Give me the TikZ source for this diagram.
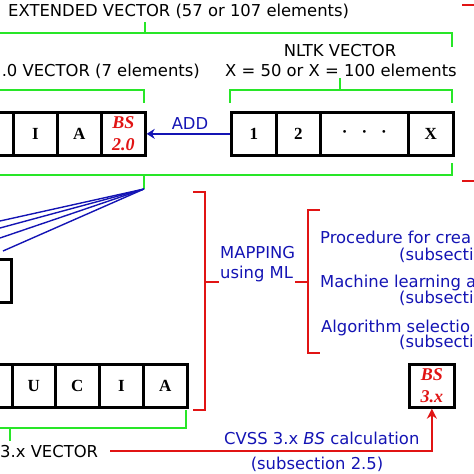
\documentclass[tikz,border=0pt]{standalone}
\usepackage{fontspec}
\setmainfont{DejaVu Sans}
\newfontfamily\tnr{Liberation Serif}
\usetikzlibrary{arrows.meta}
\definecolor{gr}{RGB}{40,230,40}
\definecolor{bl}{RGB}{20,20,180}
\definecolor{rd}{RGB}{225,20,20}
\tikzset{
  cell/.style={draw=black, line width=2.7pt, minimum height=43pt, inner sep=0pt, anchor=north west,
    font=\tnr\bfseries\fontsize{17}{17}\selectfont},
  bscell/.style={cell, text=rd, align=center, font=\tnr\bfseries\itshape\fontsize{18}{22}\selectfont},
  gline/.style={draw=gr, line width=2.8pt},
  rline/.style={draw=rd, line width=2.2pt},
  bline/.style={draw=bl, line width=1.4pt},
  lbl/.style={font=\fontsize{16.4}{20}\selectfont, inner sep=0pt},
  blbl/.style={lbl, text=bl},
}
\begin{document}
\begin{tikzpicture}[x=1pt,y=-1pt]
\useasboundingbox (0,0) rectangle (474,474);
% ---- row 1 : CVSS 2.0 vector
\node[cell, minimum width=44pt] (c0) at (-32,111) {};
\node[cell, minimum width=44pt] (c1) at (12,111) {I};
\node[cell, minimum width=44pt] (c2) at (56,111) {A};
\node[bscell, minimum width=44pt] (bs2) at (100,111) {BS\\2.0};
% ---- NLTK vector
\node[cell, minimum width=45pt] (n1) at (230,111) {1};
\node[cell, minimum width=44pt] (n2) at (275,111) {2};
\node[cell, minimum width=88pt] (n3) at (319,111) {·\hspace{14pt}·\hspace{14pt}·};
\node[cell, minimum width=45pt] (n4) at (407,111) {X};
% ---- middle left box
\node[cell, minimum width=44pt] (m0) at (-34,258) {};
% ---- CVSS 3.x vector
\node[cell, minimum width=43pt] (d0) at (-32,363) {};
\node[cell, minimum width=43pt] (d1) at (11,363) {U};
\node[cell, minimum width=44pt] (d2) at (54,363) {C};
\node[cell, minimum width=44pt] (d3) at (98,363) {I};
\node[cell, minimum width=44pt] (d4) at (142,363) {A};
\node[bscell, minimum width=45pt] (bs3) at (408,363) {BS\\3.x};
% ---- texts
\node[lbl, anchor=base west] (ext) at (8,16.5) {EXTENDED VECTOR (57 or 107 elements)};
\node[lbl, anchor=base east] (v2) at (200,76) {.0 VECTOR (7 elements)};
\node[lbl, anchor=base] (nl1) at (340,56) {NLTK VECTOR};
\node[lbl, anchor=base] (nl2) at (341,76) {X = 50 or X = 100 elements};
\node[blbl, anchor=base] (add) at (190,129) {ADD};
\node[lbl, anchor=base west] (v3) at (0,457) {3.x VECTOR};
\node[blbl, anchor=base west, align=left] (map) at (220,278) {MAPPING\\using ML};
\node[blbl, anchor=base west] (p1) at (320,243) {Procedure for crea};
\node[blbl, anchor=base west] (p1b) at (399,260) {(subsecti};
\node[blbl, anchor=base west] (p2) at (320,287) {Machine learning a};
\node[blbl, anchor=base west] (p2b) at (399,303) {(subsecti};
\node[blbl, anchor=base west] (p3) at (321,332) {Algorithm selectio};
\node[blbl, anchor=base west] (p3b) at (399,347) {(subsecti};
\node[blbl, anchor=base west] (cv) at (224,444) {CVSS 3.x \textit{BS} calculation};
\node[blbl, anchor=base] (cv2) at (317,469) {(subsection 2.5)};
% ---- green brackets
\coordinate (ga) at (-5,33); \coordinate (gb) at (452,33); \coordinate (gc) at (452,47);
\coordinate (gt) at (145,33); \coordinate (gtt) at (145,22);
\draw[gline] (ga) -- (gb) -- (gc);
\draw[gline] (gt) -- (gtt);
\coordinate (ha) at (-5,90); \coordinate (hb) at (144,90); \coordinate (hc) at (144,103);
\draw[gline] (ha) -- (hb) -- (hc);
\coordinate (ia) at (230,103); \coordinate (ib) at (230,90); \coordinate (ic) at (452,90); \coordinate (id) at (452,103);
\coordinate (it) at (340,90); \coordinate (itt) at (340,78);
\draw[gline] (ia) -- (ib) -- (ic) -- (id);
\draw[gline] (it) -- (itt);
\coordinate (ja) at (-5,175); \coordinate (jb) at (452,175); \coordinate (jc) at (452,163);
\coordinate (jt) at (144,175); \coordinate (jtt) at (144,189);
\draw[gline] (ja) -- (jb) -- (jc);
\draw[gline] (jt) -- (jtt);
\coordinate (ka) at (-5,428); \coordinate (kb) at (186,428); \coordinate (kc) at (186,410);
\coordinate (kt) at (10,428); \coordinate (ktt) at (10,441);
\draw[gline] (ka) -- (kb) -- (kc);
\draw[gline] (kt) -- (ktt);
% ---- blue fan
\coordinate (f1) at (0,221); \coordinate (f2) at (0,228); \coordinate (f3) at (0,238); \coordinate (f4) at (3,251);
\foreach \f in {f1,f2,f3,f4} \draw[bline] (jtt) -- (\f);
% ---- ADD arrow
\draw[bline, -{Stealth[length=8pt,width=10pt]}] (n1.west) -- (bs2.east);
% ---- red brackets
\coordinate (ra) at (193,192); \coordinate (rb) at (205,192); \coordinate (rc) at (205,410); \coordinate (rd0) at (193,410);
\coordinate (rm) at (205,282); \coordinate (rmm) at (219,282);
\draw[rline] (ra) -- (rb) -- (rc) -- (rd0);
\draw[rline] (rm) -- (rmm);
\coordinate (sm) at (295,282); \coordinate (smm) at (308,282);
\coordinate (sa) at (320,210); \coordinate (sb) at (308,210); \coordinate (sc) at (308,353); \coordinate (sd) at (320,353);
\draw[rline] (sm) -- (smm);
\draw[rline] (sa) -- (sb) -- (sc) -- (sd);
\coordinate (t1a) at (462,5); \coordinate (t1b) at (480,5);
\coordinate (t2a) at (462,181); \coordinate (t2b) at (480,181);
\draw[rline] (t1a) -- (t1b);
\draw[rline] (t2a) -- (t2b);
% ---- red arrow
\coordinate (rs) at (110,451);
\draw[rline, -{Stealth[length=10pt,width=10pt]}] (rs) -| (bs3.south);
\end{tikzpicture}
\end{document}
